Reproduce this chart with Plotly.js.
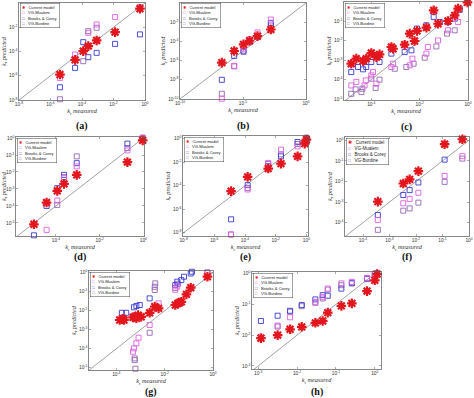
<!DOCTYPE html>
<html><head><meta charset="utf-8">
<script src="https://cdn.plot.ly/plotly-3.0.1.min.js"></script>
<style>html,body{margin:0;padding:0;background:#fff}#chart{width:474px;height:398px}</style>
</head><body><div id="chart"></div>
<script>
// All values are read as log10(k_r): [measured, predicted]
const seriesNames = ['Current model', 'VG-Mualem', 'Brooks &amp; Corey', 'VG-Burdine'];
const panelLabels = ['(a)', '(b)', '(c)', '(d)', '(e)', '(f)', '(g)', '(h)'];

const aCur = [[-5.40,-5.90],[-4.44,-4.69],[-3.92,-3.97],[-3.60,-3.56],[-3.07,-3.09],[-1.90,-2.40],[-0.32,-0.47]];
const aMu  = [[-5.40,-6.18],[-4.44,-4.25],[-3.60,-2.46],[-3.07,-1.77],[-1.90,-1.16],[-0.32,-0.40]];
const aBc  = [[-5.40,-6.95],[-4.44,-5.35],[-3.92,-3.23],[-3.60,-4.47],[-3.07,-4.11],[-1.90,-3.37],[-0.32,-2.59]];
const aBu  = [[-5.40,-7.94],[-3.92,-4.80],[-3.60,-2.32],[-3.07,-2.04],[-0.32,-0.35]];

const bCur = [[-6.68,-6.21],[-5.70,-5.00],[-4.96,-4.31],[-4.48,-3.93],[-3.85,-3.45],[-2.79,-2.76]];
const bMu  = [[-6.68,-9.97],[-5.70,-6.55],[-4.96,-4.75],[-4.48,-3.79],[-3.85,-3.07],[-2.79,-1.72]];
const bBc  = [[-6.68,-8.00],[-5.70,-5.52],[-4.96,-4.97],[-4.48,-3.95],[-3.85,-3.45],[-2.79,-2.07]];
const bBu  = [[-6.68,-9.45],[-5.70,-6.60],[-4.96,-5.10],[-4.48,-4.10],[-3.85,-3.55],[-2.79,-2.35]];

const cCur = [[-4.83,-3.18],[-4.62,-2.92],[-4.34,-3.04],[-4.21,-2.92],[-4.00,-2.63],[-3.79,-2.84],[-3.66,-2.70],
              [-3.17,-2.32],[-3.10,-2.41],[-2.62,-2.20],[-2.41,-1.63],[-2.21,-2.01],[-2.11,-1.49],[-1.72,-1.32],
              [-1.42,-0.43],[-1.24,-1.12],[-0.83,-0.98],[-0.55,-0.69],[-0.41,-0.34],[-0.02,-0.02]];
const cMu  = [[-4.83,-4.30],[-4.62,-4.12],[-4.28,-4.30],[-4.23,-4.04],[-4.00,-3.78],[-3.93,-3.61],[-3.79,-4.21],
              [-3.17,-3.35],[-3.10,-3.18],[-2.41,-3.26],[-2.30,-2.92],[-1.72,-2.66],[-1.66,-2.32],[-1.24,-1.98],
              [-0.83,-1.46],[-0.41,-1.03]];
const cBc  = [[-4.83,-3.61],[-4.55,-3.35],[-4.34,-3.47],[-4.21,-3.35],[-4.00,-3.09],[-3.66,-3.09],[-3.17,-2.66],
              [-2.62,-2.58],[-2.34,-2.49],[-2.11,-1.37],[-1.72,-1.20],[-1.42,-0.77],[-1.17,-1.03],[-0.83,-1.03],
              [-0.55,-0.86],[-0.34,-0.40]];
const cBu  = [[-4.83,-4.73],[-4.65,-4.50],[-4.41,-4.64],[-4.37,-4.47],[-4.00,-3.95],[-3.82,-4.43],[-3.66,-4.00],
              [-3.03,-3.44],[-2.55,-3.35],[-2.25,-3.18],[-1.79,-2.87],[-1.31,-2.29],[-0.87,-1.63],[-0.55,-1.46]];

const dCur = [[-5.01,-5.08],[-4.43,-3.80],[-3.94,-3.11],[-3.63,-2.70],[-3.05,-2.17],[-0.73,-1.42],[-0.03,-0.14]];
const dMu  = [[-4.43,-5.41],[-3.94,-3.68],[-3.63,-2.36],[-3.05,-1.67],[-0.73,-0.73],[-0.03,0.00]];
const dBc  = [[-5.01,-5.73],[-4.43,-4.00],[-3.94,-2.95],[-3.63,-2.17],[-3.05,-1.48],[-0.73,-0.33],[-0.03,0.06]];
const dBu  = [[-3.94,-3.94],[-3.63,-2.30],[-3.05,-1.08],[-0.73,-0.59],[-0.03,0.03]];

const eCur = [[-4.91,-4.46],[-3.83,-3.25],[-2.49,-2.54],[-1.66,-2.12],[-0.58,-1.50],[-0.11,-0.42],[0.00,-0.08]];
const eMu  = [[-4.91,-8.15],[-3.83,-4.32],[-2.49,-2.06],[-1.66,-0.93],[-0.58,-0.65],[0.00,0.05]];
const eBc  = [[-4.91,-6.86],[-3.83,-3.95],[-2.49,-2.34],[-1.66,-1.50],[-0.58,-0.28],[0.00,0.00]];
const eBu  = [[-4.91,-8.15],[-3.83,-4.20],[-2.49,-2.15],[-1.66,-1.33],[-0.58,-0.45],[0.00,0.08]];

const fCur = [[-3.44,-2.98],[-2.48,-2.10],[-2.24,-1.90],[-1.91,-1.50],[-0.92,-0.19],[-0.25,0.05]];
const fMu  = [[-3.44,-3.87],[-2.48,-3.06],[-2.24,-2.85],[-1.91,-2.55],[-0.92,-1.73],[-0.25,-0.77]];
const fBc  = [[-3.44,-3.63],[-2.48,-2.66],[-2.24,-2.42],[-1.91,-2.05],[-0.92,-0.94],[-0.25,0.05]];
const fBu  = [[-3.44,-4.35],[-2.48,-3.42],[-2.24,-3.31],[-1.91,-3.03],[-0.92,-2.02],[-0.25,-0.89]];

const gCur = [[-3.86,-2.49],[-3.68,-2.49],[-3.74,-2.42],[-3.31,-2.35],[-3.24,-2.32],[-3.10,-2.23],[-2.97,-2.32],
              [-3.17,-2.40],[-2.62,-2.11],[-2.41,-1.79],[-2.25,-1.88],[-1.56,-1.70],[-1.45,-1.61],[-1.38,-1.57],
              [-1.31,-1.53],[-1.10,-1.14],[-0.92,-0.79],[-0.23,-0.21]];
const gMu  = [[-3.08,-3.42],[-3.17,-3.72],[-3.27,-3.98],[-3.31,-4.16],[-2.62,-2.75],[-2.25,-1.61],[-1.56,-0.90],
              [-1.48,-0.72],[-0.23,0.00]];
const gBc  = [[-3.77,-2.11],[-3.59,-2.11],[-3.27,-1.82],[-3.17,-1.75],[-3.03,-1.70],[-2.62,-1.35],[-1.56,-0.65],
              [-1.48,-0.47],[-1.31,-0.39],[-1.20,-0.21],[-0.92,-0.04],[-0.87,0.05]];
const gBu  = [[-3.24,-4.51],[-3.24,-4.60],[-3.21,-5.05],[-2.62,-3.16],[-2.41,-0.74],[-2.41,-0.91],[-2.39,-0.56],
              [-1.56,-0.80],[-1.45,-0.58],[-0.23,0.02]];

const hCur = [[-2.93,-2.10],[-2.50,-2.00],[-2.18,-1.81],[-1.88,-1.73],[-1.53,-1.60],[-1.34,-1.54],[-1.21,-1.27],
              [-0.86,-1.05],[-0.59,-0.97],[-0.20,-0.57],[0.00,-0.22],[0.06,-0.02]];
const hMu  = [[-2.93,-2.05],[-2.50,-1.69],[-2.18,-1.42],[-1.53,-0.92],[-1.34,-0.76],[-1.21,-0.49],[-0.86,-0.32],
              [-0.59,-0.27],[-0.20,-0.14],[0.00,0.00]];
const hBc  = [[-2.93,-1.54],[-2.50,-1.37],[-2.18,-1.21],[-1.88,-1.02],[-1.53,-0.84],[-1.34,-0.70],[-1.21,-0.72],
              [-0.86,-0.49],[-0.59,-0.32],[-0.20,-0.16],[0.00,-0.02]];
const hBu  = [[-2.50,-1.72],[-2.18,-1.24],[-1.88,-1.06],[-1.53,-0.95],[-1.34,-0.81],[-1.21,-0.52],[-0.86,-0.38],
              [-0.59,-0.30],[-0.20,-0.18],[0.06,0.02]];

// axis ranges (log10) and tick exponents
const xRanges = [[-8,0],[-10,0],[-5.13,0],[-5.83,0.03],[-8.04,0.1],[-4.68,0],[-5.13,0],[-3.16,0.16]];
const yRanges = [[-8,0],[-10,0],[-5.05,0],[-5.77,0.06],[-8.28,0.23],[-4.65,0.16],[-5.12,0.09],[-3.1,0.05]];
const xTickExp = [[-8,-6,-4,-2,0],[-10,-5,0],[-4,-2,0],[-4,-2,0],[-8,-6,-4,-2,0],[-4,-3,-2,-1,0],[-4,-2,0],[-3,-2,-1,0]];
const yTickExp = [[-8,-6,-4,-2,0],[-10,-8,-6,-4,-2,0],[-5,-4,-3,-2,-1,0],[-5,-4,-3,-2,-1,0],[-8,-6,-4,-2,0],[-4,-3,-2,-1,0],[-5,-4,-3,-2,-1,0],[-3,-2,-1,0]];

const panels = [
  [aCur,aMu,aBc,aBu],[bCur,bMu,bBc,bBu],[cCur,cMu,cBc,cBu],[dCur,dMu,dBc,dBu],
  [eCur,eMu,eBc,eBu],[fCur,fMu,fBc,fBu],[gCur,gMu,gBc,gBu],[hCur,hMu,hBc,hBu]
];

// layout (pixel boxes of plot areas: left, right, top, bottom)
const W = 474, H = 398;
const boxes = [[19,145,3,100],[180,306,3,99],[344,468,2,100],[16,144,137,236],[183,308,136,236],[345,469,137,236],[89,213,271,370],[252,381,272,369]];
const labelY = [126,126,127,257,257,257,392,392];
const colors = ['#e3161d','#e060e0','#3a3ad0','#9468b4'];

const pw = v => Math.pow(10, v);
const sup = e => '10<sup>' + (e < 0 ? '-' + (-e) : e) + '</sup>';

const traces = [];
const layout = {
  width: W, height: H, margin: {l:0,r:0,t:0,b:0},
  paper_bgcolor: '#fff', plot_bgcolor: '#fff', showlegend: false,
  font: {family: 'Liberation Sans, Arial, sans-serif', color: '#333'},
  annotations: []
};

panels.forEach((series, i) => {
  const n = i === 0 ? '' : String(i + 1);
  const xa = 'x' + n, ya = 'y' + n;
  const [l, r, t, b] = boxes[i];
  const axBase = {
    type: 'log', showgrid: false, zeroline: false,
    showline: true, mirror: 'ticks', linecolor: '#555', linewidth: 0.7,
    ticks: 'inside', ticklen: 2, tickwidth: 0.5, tickcolor: '#555',
    tickfont: {family: 'Liberation Sans, Arial, sans-serif', size: 4.8, color: '#333'}
  };
  layout['xaxis' + n] = Object.assign({}, axBase, {
    domain: [l / W, r / W], range: xRanges[i], anchor: ya,
    tickvals: xTickExp[i].map(pw), ticktext: xTickExp[i].map(sup),
    title: {text: '<i>k</i><sub>r</sub> <i>measured</i>', standoff: 2,
            font: {family: 'Liberation Serif, Times New Roman, serif', size: 6.2, color: '#333'}}
  });
  layout['yaxis' + n] = Object.assign({}, axBase, {
    domain: [1 - b / H, 1 - t / H], range: yRanges[i], anchor: xa,
    tickvals: yTickExp[i].map(pw), ticktext: yTickExp[i].map(sup),
    title: {text: '<i>k</i><sub>r</sub> <i>predicted</i>', standoff: 1,
            font: {family: 'Liberation Serif, Times New Roman, serif', size: 6.2, color: '#333'}}
  });

  // 1:1 line
  const lo = Math.min(xRanges[i][0], yRanges[i][0]) - 0.5, hi = 0.5;
  traces.push({x: [pw(lo), pw(hi)], y: [pw(lo), pw(hi)], xaxis: xa, yaxis: ya,
    mode: 'lines', line: {color: '#7a7a7a', width: 0.7}, hoverinfo: 'skip'});

  // squares first, then current model on top
  [3, 2, 1, 0].forEach(k => {
    const pts = series[k];
    const m = k === 0
      ? {symbol: 'asterisk-open', size: 8, color: colors[0], line: {color: colors[0], width: 2.2}}
      : {symbol: 'square-open', size: 5, color: colors[k], line: {color: colors[k], width: 0.9}};
    traces.push({x: pts.map(p => pw(p[0])), y: pts.map(p => pw(p[1])), xaxis: xa, yaxis: ya,
      mode: 'markers', marker: m, cliponaxis: false, name: seriesNames[k]});
  });

  // legend box
  const nb = '\u00a0';
  const lines = seriesNames.map((s, k) =>
    '<span style="color:' + colors[k] + '">' + (k === 0 ? '✱' : '□') + '</span>' + nb + nb + nb + s);
  layout.annotations.push({
    xref: 'paper', yref: 'paper', x: (l + 0.5) / W, y: 1 - (t + 0.5) / H,
    xanchor: 'left', yanchor: 'top', align: 'left', showarrow: false,
    text: lines.join('<br>'), bgcolor: '#fff', bordercolor: '#444', borderwidth: 0.5, borderpad: 1.5,
    font: {family: 'Liberation Sans, Arial, sans-serif', size: i === 5 ? 4.5 : 4.1, color: '#222'}
  });

  // panel label
  layout.annotations.push({
    xref: 'paper', yref: 'paper', x: ((l + r) / 2) / W, y: 1 - labelY[i] / H,
    xanchor: 'center', yanchor: 'middle', showarrow: false,
    text: '<b>' + panelLabels[i] + '</b>',
    font: {family: 'Liberation Serif, Times New Roman, serif', size: 10, color: '#111'}
  });
});

Plotly.newPlot('chart', traces, layout, {staticPlot: true});
</script>
</body></html>
